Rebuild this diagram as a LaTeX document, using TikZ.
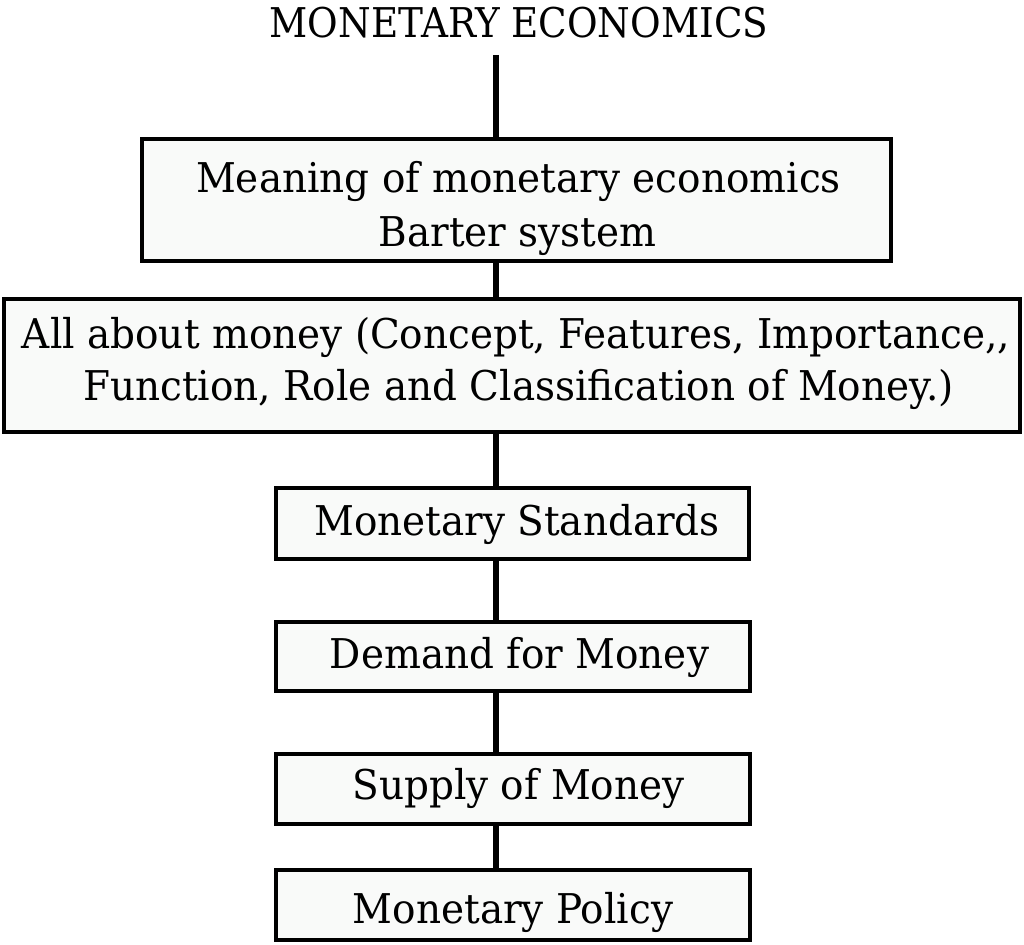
\documentclass[tikz,border=0pt]{standalone}
\usepackage{fontspec}
\setmainfont[FakeStretch=0.95]{DejaVu Serif}
\newfontfamily\titlefont[FakeStretch=0.91]{DejaVu Serif}
\definecolor{boxfill}{HTML}{F9FAF9}
\begin{document}
\begin{tikzpicture}[x=1pt,y=-1pt,
  box/.style={draw=black, line width=3.5pt, fill=boxfill, inner sep=0pt},
  txt/.style={anchor=base, inner sep=0pt, font=\fontsize{41}{53}\selectfont},
  link/.style={line width=6pt},
  titlestyle/.style={anchor=base, inner sep=0pt, font=\titlefont\fontsize{41}{48}\selectfont}]
\useasboundingbox (0,0) rectangle (1024,944);
\node[titlestyle] (title) at (519,38) {MONETARY ECONOMICS};
\coordinate (t0) at (496,55);
% boxes
\node[box, minimum width=749pt, minimum height=122pt] (b1) at (516.5,200) {};
\node[box, minimum width=1016pt, minimum height=133pt] (b2) at (512,365.5) {};
\node[box, minimum width=473pt, minimum height=71pt] (b3) at (512.5,523.5) {};
\node[box, minimum width=474pt, minimum height=69pt] (b4) at (513,656.5) {};
\node[box, minimum width=474pt, minimum height=70pt] (b5) at (513,789) {};
\node[box, minimum width=474pt, minimum height=70pt] (b6) at (513,905) {};
% texts
\node[txt] (b1a) at (518.5,192) {Meaning of monetary economics};
\node[txt] (b1b) at (517.5,246) {Barter system};
\node[txt] (b2a) at (516,348) {All about money (Concept, Features, Importance,{},};
\node[txt] (b2b) at (518.5,400) {Function, Role and Classification of Money.)};
\node[txt] (b3t) at (517,535) {Monetary Standards};
\node[txt] (b4t) at (519.5,668) {Demand for Money};
\node[txt] (b5t) at (518.5,799) {Supply of Money};
\node[txt] (b6t) at (513,923) {Monetary Policy};
% connectors
\draw[link] (t0) -- (b1.north -| t0);
\draw[link] (b1.south -| t0) -- (b2.north -| t0);
\draw[link] (b2.south -| t0) -- (b3.north -| t0);
\draw[link] (b3.south -| t0) -- (b4.north -| t0);
\draw[link] (b4.south -| t0) -- (b5.north -| t0);
\draw[link] (b5.south -| t0) -- (b6.north -| t0);
\end{tikzpicture}
\end{document}
